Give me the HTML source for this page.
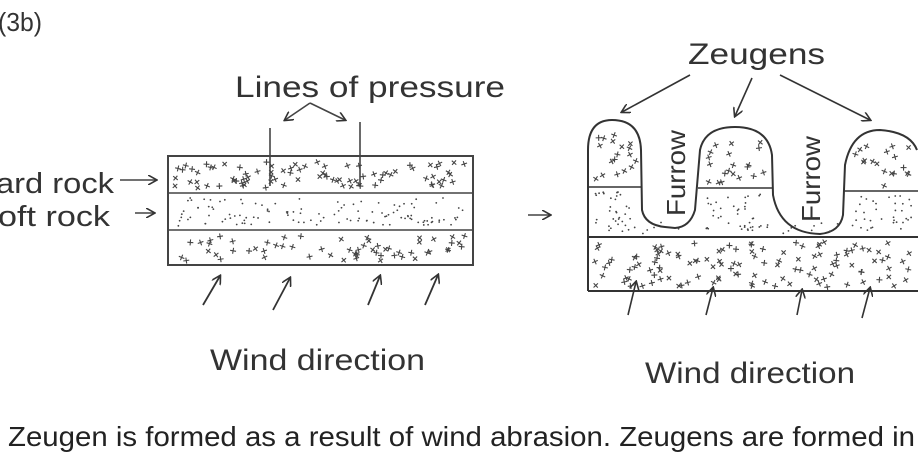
<!DOCTYPE html>
<html><head><meta charset="utf-8"><style>
html,body{margin:0;padding:0;background:#fff;width:919px;height:459px;overflow:hidden}
svg{display:block}
text{font-family:"Liberation Sans",sans-serif;fill:#333}
</style></head><body>
<svg id="s" width="919" height="459" viewBox="0 0 919 459" xmlns="http://www.w3.org/2000/svg">
<defs><marker id="ah" markerWidth="10" markerHeight="10" refX="8" refY="5" orient="auto" markerUnits="userSpaceOnUse"><path d="M0,0 L9,5 L0,10" fill="none" stroke="#333" stroke-width="1.6"/></marker></defs>
<text x="-2" y="31" font-size="26" textLength="44" lengthAdjust="spacingAndGlyphs">(3b)</text>
<text x="235" y="97" font-size="30" textLength="270" lengthAdjust="spacingAndGlyphs">Lines of pressure</text>
<g stroke="#444" stroke-width="1.6" fill="none">
<line x1="310" y1="103" x2="285" y2="120" marker-end="url(#ah)"/>
<line x1="310" y1="103" x2="345" y2="120" marker-end="url(#ah)"/>
<line x1="270" y1="128" x2="270" y2="186"/>
<line x1="360" y1="122" x2="360" y2="186"/>
<rect x="168" y="156" width="305" height="109" stroke-width="2"/>
<line x1="168" y1="193" x2="473" y2="193"/>
<line x1="168" y1="230" x2="473" y2="230"/>
<line x1="120" y1="180" x2="156" y2="180" marker-end="url(#ah)"/>
<line x1="135" y1="213" x2="154" y2="213" marker-end="url(#ah)"/>
<line x1="528" y1="215" x2="550" y2="215" marker-end="url(#ah)"/>
</g>
<text x="-4" y="193" font-size="29" textLength="118" lengthAdjust="spacingAndGlyphs">ard rock</text>
<text x="-2" y="226" font-size="29" textLength="112" lengthAdjust="spacingAndGlyphs">oft rock</text>
<g stroke="#333" stroke-width="1.8" fill="none">
<line x1="203" y1="305" x2="220" y2="276" marker-end="url(#ah)"/>
<line x1="273" y1="310" x2="290" y2="278" marker-end="url(#ah)"/>
<line x1="368" y1="305" x2="380" y2="276" marker-end="url(#ah)"/>
<line x1="425" y1="305" x2="438" y2="275" marker-end="url(#ah)"/>
</g>
<text x="210" y="370" font-size="30" textLength="215" lengthAdjust="spacingAndGlyphs">Wind direction</text>

<text x="688" y="64" font-size="30" textLength="137" lengthAdjust="spacingAndGlyphs">Zeugens</text>
<g stroke="#333" stroke-width="1.6" fill="none">
<line x1="690" y1="75" x2="622" y2="112" marker-end="url(#ah)"/>
<line x1="752" y1="78" x2="735" y2="116" marker-end="url(#ah)"/>
<line x1="780" y1="75" x2="870" y2="120" marker-end="url(#ah)"/>
<path d="M588,291 L588,150 Q588,120 612,120 Q640,120 641,150 L642,210 Q645,225 665,227 L675,228 Q690,227 695,210 L700,150 Q705,127 735,127 Q768,127 772,155 L773,195 Q780,233 820,234 Q840,232 843,215 L845,165 Q852,130 880,130 Q910,132 917,150" stroke-width="2"/>
<path d="M588,237 L918,237 M588,291 L918,291" stroke-width="2"/>
<path d="M588,187 L641,187 M698,188 L773,188 M843,191 L918,191"/>
<line x1="628" y1="315" x2="636" y2="282" marker-end="url(#ah)"/>
<line x1="706" y1="315" x2="713" y2="288" marker-end="url(#ah)"/>
<line x1="797" y1="315" x2="802" y2="290" marker-end="url(#ah)"/>
<line x1="862" y1="318" x2="870" y2="288" marker-end="url(#ah)"/>
</g>
<text transform="translate(685,216) rotate(-90)" font-size="26" textLength="86" lengthAdjust="spacingAndGlyphs">Furrow</text>
<text transform="translate(820,222) rotate(-90)" font-size="26" textLength="86" lengthAdjust="spacingAndGlyphs">Furrow</text>
<text x="645" y="383" font-size="30" textLength="210" lengthAdjust="spacingAndGlyphs">Wind direction</text>
<text x="8" y="446" font-size="28" style="fill:#222" textLength="907" lengthAdjust="spacingAndGlyphs">Zeugen is formed as a result of wind abrasion. Zeugens are formed in</text>
<g id="tex" stroke="#444" stroke-width="1.1" fill="#444"></g>
</svg>
<script>
var g=document.getElementById('tex'),seed=7;
function r(){seed=(seed*16807)%2147483647;return seed/2147483647;}
function cross(x,y){var a=r()*3,l=3;var p=document.createElementNS('http://www.w3.org/2000/svg','path');
p.setAttribute('d','M'+(x-l*Math.cos(a))+','+(y-l*Math.sin(a))+'L'+(x+l*Math.cos(a))+','+(y+l*Math.sin(a))+'M'+(x-l*Math.sin(a))+','+(y+l*Math.cos(a))+'L'+(x+l*Math.sin(a))+','+(y-l*Math.cos(a)));p.setAttribute('fill','none');g.appendChild(p);}
function dot(x,y){var c=document.createElementNS('http://www.w3.org/2000/svg','circle');c.setAttribute('cx',x);c.setAttribute('cy',y);c.setAttribute('r',0.9);c.setAttribute('stroke','none');g.appendChild(c);}
function fill(x0,y0,x1,y1,n,f){for(var i=0;i<n;i++)f(x0+r()*(x1-x0),y0+r()*(y1-y0));}
fill(175,162,466,188,85,cross);fill(175,198,466,226,120,dot);fill(175,235,466,261,60,cross);
fill(595,135,636,183,18,cross);fill(708,140,765,184,20,cross);fill(855,145,912,187,18,cross);
fill(595,192,636,232,35,dot);fill(705,193,770,232,35,dot);fill(850,196,912,232,35,dot);fill(640,222,850,234,20,dot);
fill(594,242,912,287,120,cross);
</script>
</body></html>
